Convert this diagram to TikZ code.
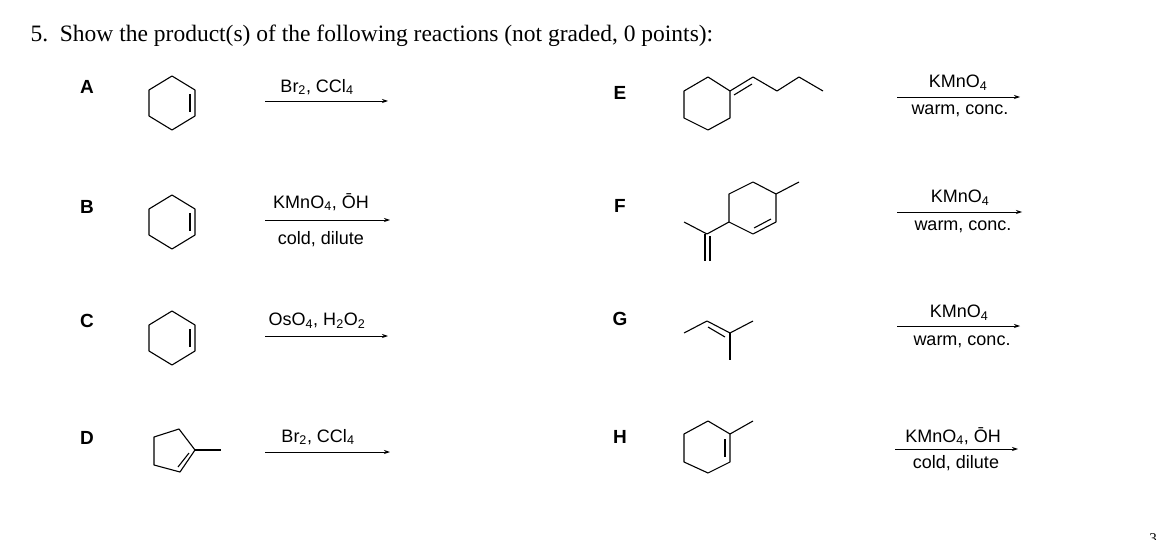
\documentclass[tikz,border=0pt]{standalone}
\usepackage{fontspec}
\setmainfont{Liberation Serif}
\setsansfont{Liberation Sans}
\usetikzlibrary{arrows.meta}
\newcommand{\ssub}[1]{\textsubscript{#1}}
\begin{document}
\begin{tikzpicture}[x=1pt,y=-1pt,line width=1.1pt,
 bond/.style={line width=1.1pt,line join=round},
 rx/.style={-{Stealth[length=6pt,width=4pt]},line width=0.8pt},
 lab/.style={font=\sffamily\fontsize{18}{20}\selectfont,inner sep=1pt},
 let/.style={font=\sffamily\bfseries\fontsize{19}{21}\selectfont}]
\useasboundingbox (0,0) rectangle (1164,540);
\clip (0,0) rectangle (1164,540);
\node[anchor=west,font=\fontsize{23.5}{26}\selectfont,inner sep=0pt] (title) at (30,36) {5.\ \ Show the product(s) of the following reactions (not graded, 0 points):};
% letters
\foreach \n/\x/\y in {A/87/87,B/87/207,C/87/321,D/87/438,E/620/93,F/620/206,G/620/319,H/620/437}
  \node[let] (L\n) at (\x,\y) {\n};
% cyclohexenes A,B,C
\foreach \c/\cy in {A/103,B/222,C/338}{
 \draw[bond] (172,\cy-27) -- (195,\cy-13) -- (195,\cy+13) -- (172,\cy+27) -- (149,\cy+13) -- (149,\cy-13) -- cycle;
 \draw[bond] (190,\cy-9) -- (190,\cy+9);
}
% D
\draw[bond] (179,429) -- (195,450) -- (180,472) -- (154,465) -- (154,437) -- cycle;
\draw[bond] (195,450) -- (221,450);
\draw[bond] (189,453) -- (178,467);
% E
\draw[bond] (708,77) -- (730,91) -- (730,118) -- (708,130) -- (684,118) -- (684,91) -- cycle;
\draw[bond] (730,91) -- (753,77) -- (777,91) -- (799,77) -- (823,91);
\draw[bond] (734,95) -- (752,84);
% F
\draw[bond] (729,194) -- (753,182) -- (776,194) -- (776,222) -- (753,234) -- (729,222) -- cycle;
\draw[bond] (776,194) -- (799,182);
\draw[bond] (771,219) -- (754,228);
\draw[bond] (729,222) -- (707,234) -- (684,222);
\draw[bond] (705,234) -- (705,261);
\draw[bond] (710,236) -- (710,261);
% G
\draw[bond] (684,333) -- (707,321) -- (730,333) -- (753,321);
\draw[bond] (730,333) -- (730,360);
\draw[bond] (708,327) -- (725,337);
% H
\draw[bond] (708,421) -- (730,434) -- (730,462) -- (708,473) -- (684,462) -- (684,434) -- cycle;
\draw[bond] (730,434) -- (753,421);
\draw[bond] (725,439) -- (725,457);
% arrows
\coordinate (a1) at (265,101); \coordinate (a2) at (388,101);
\draw[rx] (a1) -- (a2); \node[lab] (ta) at (317,87) {Br\ssub{2}, CCl\ssub{4}};
\coordinate (b1) at (265,220); \coordinate (b2) at (390,220);
\draw[rx] (b1) -- (b2); \node[lab] (tb) at (321,202) {KMnO\ssub{4}, \=OH}; \node[lab] (bb) at (321,239) {cold, dilute};
\coordinate (c1) at (265,336); \coordinate (c2) at (388,336);
\draw[rx] (c1) -- (c2); \node[lab] (tc) at (317,321) {OsO\ssub{4}, H\ssub{2}O\ssub{2}};
\coordinate (d1) at (265,452); \coordinate (d2) at (390,452);
\draw[rx] (d1) -- (d2); \node[lab] (td) at (318,437) {Br\ssub{2}, CCl\ssub{4}};
\coordinate (e1) at (897,97); \coordinate (e2) at (1020,97);
\draw[rx] (e1) -- (e2); \node[lab] (te) at (958,83) {KMnO\ssub{4}}; \node[lab] (be) at (960,111) {warm, conc.};
\coordinate (f1) at (897,212); \coordinate (f2) at (1022,212);
\draw[rx] (f1) -- (f2); \node[lab] (tf) at (960,198) {KMnO\ssub{4}}; \node[lab] (bf) at (963,227) {warm, conc.};
\coordinate (g1) at (897,326); \coordinate (g2) at (1020,326);
\draw[rx] (g1) -- (g2); \node[lab] (tg) at (959,313) {KMnO\ssub{4}}; \node[lab] (bg) at (962,342) {warm, conc.};
\coordinate (h1) at (895,449); \coordinate (h2) at (1018,449);
\draw[rx] (h1) -- (h2); \node[lab] (th) at (953,436) {KMnO\ssub{4}, \=OH}; \node[lab] (bh) at (956,463) {cold, dilute};
\node[font=\fontsize{15}{17}\selectfont,anchor=north] (pg) at (1153,530) {3};
\end{tikzpicture}
\end{document}
